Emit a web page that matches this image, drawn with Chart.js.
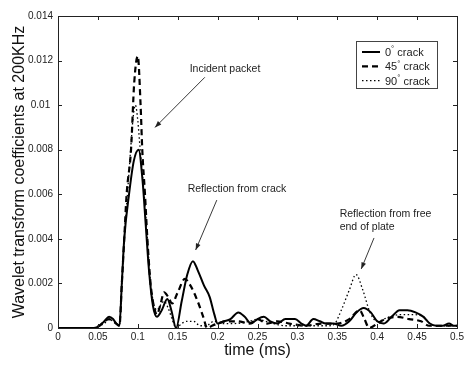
<!DOCTYPE html>
<html>
<head>
<meta charset="utf-8">
<script src="https://cdn.jsdelivr.net/npm/chart.js@4/dist/chart.umd.min.js"></script>
<style>
html,body{margin:0;padding:0;background:#fff;}
#c{display:block;}
</style>
</head>
<body>
<canvas id="c" width="474" height="366"></canvas>
<script>
// ---- data ----
const seriesLabels = ["0° crack", "45° crack", "90° crack"];

const t0 = [0, 0.045, 0.052, 0.058, 0.064, 0.069, 0.073, 0.077, 0.080, 0.083, 0.089, 0.095, 0.101, 0.106, 0.110, 0.114, 0.119, 0.124, 0.130, 0.137, 0.142, 0.148, 0.155, 0.162, 0.169, 0.175, 0.183, 0.190, 0.196, 0.200, 0.208, 0.216, 0.226, 0.234, 0.242, 0.250, 0.258, 0.266, 0.275, 0.285, 0.297, 0.305, 0.311, 0.320, 0.328, 0.336, 0.345, 0.355, 0.365, 0.374, 0.383, 0.392, 0.400, 0.408, 0.418, 0.428, 0.438, 0.448, 0.458, 0.466, 0.474, 0.482, 0.490, 0.496, 0.500];
const v0 = [0, 0, 0.0001, 0.0003, 0.0005, 0.0004, 0.0002, 0.0001, 0.0020, 0.0040, 0.0060, 0.0075, 0.0080, 0.0066, 0.0046, 0.0026, 0.0010, 0.0005, 0.0008, 0.0013, 0.0008, 0.0000, 0.0012, 0.0024, 0.0030, 0.0026, 0.0019, 0.0014, 0.0006, 0.0002, 0.0003, 0.0004, 0.0007, 0.0005, 0.0002, 0.0004, 0.0005, 0.0003, 0.0002, 0.0004, 0.0004, 0.0002, 0.0001, 0.0004, 0.0003, 0.0002, 0.0002, 0.0001, 0.0003, 0.0007, 0.0009, 0.0007, 0.0003, 0.0002, 0.0005, 0.0008, 0.0008, 0.0007, 0.0005, 0.0002, 0.0001, 0.0001, 0.0002, 0.0001, 0.0001];

const t45 = [0, 0.045, 0.052, 0.058, 0.064, 0.069, 0.073, 0.077, 0.080, 0.083, 0.086, 0.0915, 0.0955, 0.100, 0.1035, 0.1056, 0.109, 0.112, 0.116, 0.120, 0.124, 0.128, 0.133, 0.138, 0.143, 0.150, 0.159, 0.166, 0.175, 0.182, 0.187, 0.193, 0.200, 0.210, 0.225, 0.240, 0.250, 0.262, 0.275, 0.290, 0.310, 0.330, 0.350, 0.365, 0.378, 0.384, 0.390, 0.400, 0.410, 0.425, 0.440, 0.455, 0.465, 0.480, 0.500];
const v45 = [0, 0, 0.0001, 0.0003, 0.0004, 0.0003, 0.0002, 0.0001, 0.0020, 0.0040, 0.0060, 0.0080, 0.0110, 0.0122, 0.0100, 0.0080, 0.0060, 0.0040, 0.0020, 0.0010, 0.0006, 0.0010, 0.0016, 0.0014, 0.0011, 0.0016, 0.0022, 0.0019, 0.0012, 0.0005, 0.0000, 0.0001, 0.0002, 0.0003, 0.0003, 0.0002, 0.0004, 0.0002, 0.0003, 0.0002, 0.0001, 0.0002, 0.0002, 0.0004, 0.0008, 0.0004, 0.0000, 0.0002, 0.0004, 0.0005, 0.0004, 0.0003, 0.0001, 0.0001, 0.0001];

const t90 = [0, 0.045, 0.052, 0.058, 0.064, 0.069, 0.073, 0.077, 0.080, 0.083, 0.087, 0.091, 0.094, 0.097, 0.100, 0.103, 0.108, 0.112, 0.116, 0.120, 0.124, 0.128, 0.133, 0.138, 0.143, 0.148, 0.155, 0.162, 0.170, 0.178, 0.186, 0.195, 0.205, 0.220, 0.240, 0.250, 0.260, 0.270, 0.285, 0.300, 0.320, 0.340, 0.347, 0.355, 0.365, 0.3735, 0.382, 0.391, 0.400, 0.415, 0.430, 0.445, 0.458, 0.466, 0.475, 0.490, 0.500];
const v90 = [0, 0, 0.0001, 0.0002, 0.0004, 0.0003, 0.0002, 0.0001, 0.0020, 0.0040, 0.0060, 0.0080, 0.0094, 0.0100, 0.0093, 0.0080, 0.0060, 0.0040, 0.0020, 0.0011, 0.0008, 0.0010, 0.0012, 0.0009, 0.0004, 0.0000, 0.0002, 0.0003, 0.0003, 0.0001, 0.0001, 0.0003, 0.0002, 0.0002, 0.0003, 0.0004, 0.0003, 0.0002, 0.0001, 0.0001, 0.0001, 0.0001, 0.0002, 0.0008, 0.0017, 0.0024, 0.0017, 0.0007, 0.0003, 0.0005, 0.0006, 0.0006, 0.0005, 0.0002, 0.0001, 0.0001, 0.0001];

const xTicks = [0, 0.05, 0.1, 0.15, 0.2, 0.25, 0.3, 0.35, 0.4, 0.45, 0.5];
const yTicks = [0, 0.002, 0.004, 0.006, 0.008, 0.01, 0.012, 0.014];
const xTitle = "time (ms)";
const yTitle = "Wavelet transform coefficients at 200KHz";

// annotations (text + arrow), placed in data units
const notes = [
  {lines: ["Incident packet"], tx: 0.165, ty: 0.01161, from: [0.184, 0.01125], to: [0.1215, 0.0090]},
  {lines: ["Reflection from crack"], tx: 0.1625, ty: 0.00623, from: [0.199, 0.00574], to: [0.1725, 0.0035]},
  {lines: ["Reflection from free", "end of plate"], tx: 0.353, ty: 0.00511, from: [0.396, 0.00404], to: [0.380, 0.00265]}
];

const zip = (t, v) => t.map((x, i) => ({x: x, y: v[i]}));
const FONT = "'Liberation Sans', Arial, sans-serif";
const styles = [
  {borderWidth: 2, borderDash: []},
  {borderWidth: 2.2, borderDash: [6, 4]},
  {borderWidth: 1.3, borderDash: [1.5, 2.5]}
];

const decor = {
  id: 'decor',
  afterDatasetsDraw(chart) {
    const ctx = chart.ctx, a = chart.chartArea;
    const xs = chart.scales.x, ys = chart.scales.y;
    ctx.save();
    // frame
    ctx.strokeStyle = '#222'; ctx.lineWidth = 1; ctx.setLineDash([]);
    ctx.strokeRect(Math.round(a.left) + 0.5, Math.round(a.top) + 0.5, Math.round(a.right - a.left), Math.round(a.bottom - a.top));
    // inner ticks on all four sides
    const L = 4;
    ctx.beginPath();
    xTicks.forEach(v => {
      const p = Math.round(xs.getPixelForValue(v)) + 0.5;
      ctx.moveTo(p, a.bottom); ctx.lineTo(p, a.bottom - L);
      ctx.moveTo(p, a.top); ctx.lineTo(p, a.top + L);
    });
    yTicks.forEach(v => {
      const p = Math.round(ys.getPixelForValue(v)) + 0.5;
      ctx.moveTo(a.left, p); ctx.lineTo(a.left + L, p);
      ctx.moveTo(a.right, p); ctx.lineTo(a.right - L, p);
    });
    ctx.stroke();

    // annotations
    ctx.fillStyle = '#222'; ctx.strokeStyle = '#222';
    ctx.font = '10.5px ' + FONT; ctx.textBaseline = 'middle'; ctx.textAlign = 'left';
    notes.forEach(n => {
      const x = xs.getPixelForValue(n.tx), y = ys.getPixelForValue(n.ty);
      n.lines.forEach((s, i) => ctx.fillText(s, x, y + i * 13));
      const x1 = xs.getPixelForValue(n.from[0]), y1 = ys.getPixelForValue(n.from[1]);
      const x2 = xs.getPixelForValue(n.to[0]), y2 = ys.getPixelForValue(n.to[1]);
      ctx.lineWidth = 0.9;
      ctx.beginPath(); ctx.moveTo(x1, y1); ctx.lineTo(x2, y2); ctx.stroke();
      const ang = Math.atan2(y2 - y1, x2 - x1), h = 7, w = 0.35;
      ctx.beginPath();
      ctx.moveTo(x2, y2);
      ctx.lineTo(x2 - h * Math.cos(ang - w), y2 - h * Math.sin(ang - w));
      ctx.lineTo(x2 - h * Math.cos(ang + w), y2 - h * Math.sin(ang + w));
      ctx.closePath(); ctx.fill();
    });

    // legend box
    const bx = 356, by = 41, bw = 81, bh = 47;
    ctx.fillStyle = '#fff'; ctx.fillRect(bx, by, bw, bh);
    ctx.strokeStyle = '#444'; ctx.lineWidth = 1; ctx.setLineDash([]);
    ctx.strokeRect(bx + 0.5, by + 0.5, bw, bh);
    chart.data.datasets.forEach((ds, i) => {
      const yy = by + 11 + i * 14.3;
      ctx.strokeStyle = '#000';
      ctx.lineWidth = ds.borderWidth;
      ctx.setLineDash(ds.borderDash);
      ctx.beginPath(); ctx.moveTo(bx + 6, yy); ctx.lineTo(bx + 24, yy); ctx.stroke();
      ctx.setLineDash([]);
      ctx.fillStyle = '#222';
      const parts = ds.label.split('°');
      let tx = bx + 29;
      ctx.font = '11px ' + FONT; ctx.textBaseline = 'middle';
      ctx.fillText(parts[0], tx, yy + 1); tx += ctx.measureText(parts[0]).width;
      ctx.font = '8px ' + FONT;
      ctx.fillText('°', tx, yy - 3); tx += ctx.measureText('°').width;
      ctx.font = '11px ' + FONT;
      ctx.fillText(parts[1], tx, yy + 1);
    });
    ctx.restore();
  }
};

new Chart(document.getElementById('c'), {
  type: 'line',
  data: {
    datasets: [zip(t0, v0), zip(t45, v45), zip(t90, v90)].map((d, i) => ({
      label: seriesLabels[i],
      data: d,
      borderColor: '#000',
      borderWidth: styles[i].borderWidth,
      borderDash: styles[i].borderDash,
      pointRadius: 0,
      fill: false,
      cubicInterpolationMode: 'monotone'
    }))
  },
  options: {
    responsive: false,
    devicePixelRatio: 1,
    animation: false,
    events: [],
    layout: {padding: {left: 0, right: 17, top: 16, bottom: 0}},
    plugins: {legend: {display: false}, tooltip: {enabled: false}},
    scales: {
      x: {
        type: 'linear', min: 0, max: 0.5,
        afterBuildTicks: s => { s.ticks = xTicks.map(v => ({value: v})); },
        ticks: {
          color: '#222', font: {family: FONT, size: 10}, padding: 3, maxRotation: 0,
          callback: v => String(Number(v.toFixed(3)))
        },
        grid: {display: false, drawTicks: false},
        border: {display: false},
        title: {display: true, text: xTitle, color: '#111', font: {family: FONT, size: 16}, padding: {top: 0, bottom: 6}},
        afterFit: s => { s.height = 38; }
      },
      y: {
        type: 'linear', min: 0, max: 0.014,
        afterBuildTicks: s => { s.ticks = yTicks.map(v => ({value: v})); },
        ticks: {
          color: '#222', font: {family: FONT, size: 10}, padding: 5,
          callback: v => { const s = String(Number(v.toFixed(3))); return s === '0.01' ? s + ' ' : s; }
        },
        grid: {display: false, drawTicks: false},
        border: {display: false},
        title: {display: true, text: yTitle, color: '#111', font: {family: FONT, size: 16}, padding: {top: 10, bottom: 0}},
        afterFit: s => { s.width = 58; }
      }
    }
  },
  plugins: [decor]
});
</script>
</body>
</html>
